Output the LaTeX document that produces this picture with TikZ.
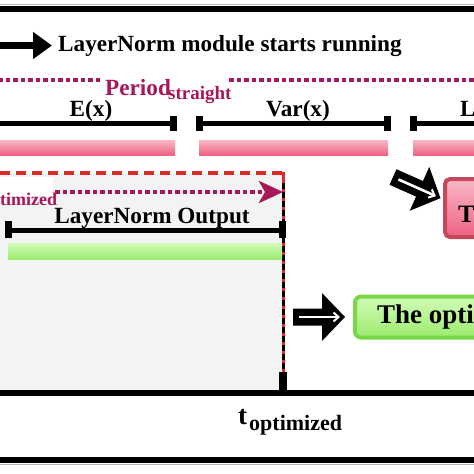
\documentclass[tikz,border=0pt]{standalone}
\usepackage{fontspec}
\setmainfont{Liberation Serif}
\usetikzlibrary{arrows.meta,calc}
\definecolor{mag}{HTML}{A8175A}
\definecolor{redd}{HTML}{E02828}
\definecolor{pinkT}{HTML}{F9B8C6}
\definecolor{pinkB}{HTML}{EE6282}
\definecolor{grnT}{HTML}{D2FBB8}
\definecolor{grnB}{HTML}{9CEB6E}
\definecolor{bgray}{HTML}{F2F3F3}
\definecolor{pboxD}{HTML}{C4475C}
\definecolor{gboxD}{HTML}{78D848}
\begin{document}
\begin{tikzpicture}[x=1pt,y=-1pt,
  txt/.style={font=\fontsize{23.2}{23}\selectfont\bfseries, inner sep=0pt},
  subtxt/.style={font=\fontsize{19}{19}\selectfont\bfseries, inner sep=0pt},
  bigtxt/.style={font=\fontsize{27}{27}\selectfont\bfseries, inner sep=0pt},
  axisline/.style={line width=6pt, black},
  barline/.style={line width=5pt, black},
  tick/.style={line width=7pt, black},
  pinkbar/.style={top color=pinkT, bottom color=pinkB},
  greenbar/.style={top color=grnT, bottom color=grnB},
  magdot/.style={mag, line width=4.5pt, dash pattern=on 4.5pt off 3pt},
  hollowarrow/.pic={
    \fill[black] (0,-8.5) -- (29,-8.5) -- (29,-24) -- (52,0) -- (29,24) -- (29,8.5) -- (0,8.5) -- cycle;
    \draw[white, line width=2.6pt, -{Straight Barb[length=5pt,width=9pt,line width=2pt]}] (6,0) -- (47,0);
  },
  pinkbox/.style={draw=pboxD, line width=4pt, rounded corners=5pt, top color=pinkT, bottom color=pinkB, minimum width=140pt, minimum height=58pt, inner sep=0pt},
  greenbox/.style={draw=gboxD, line width=4pt, rounded corners=6pt, top color=grnT, bottom color=grnB, minimum width=200pt, minimum height=41pt, inner sep=0pt}
]
\useasboundingbox (0,0) rectangle (474,474);
\clip (0,0) rectangle (474,474);
\fill[white] (0,0) rectangle (474,474);
% frame lines
\draw[gray!60, line width=1.5pt] (0,4.5) -- (474,4.5);
\draw[axisline] (0,9) -- (474,9);
\draw[axisline] (0,460) -- (474,460);
\draw[gray!60, line width=1.5pt] (0,464.5) -- (474,464.5);
% legend arrow
\coordinate (la0) at (-2,45.5);
\node[txt, anchor=base west] (legend) at (58,51) {LayerNorm module starts running};
\draw[line width=7pt, -{Triangle[length=19pt,width=26pt]}] (la0) -- ([xshift=-6pt]legend.west |- la0);
% period straight
\node[txt, mag, anchor=base west] (per) at (105,95) {Period};
\node[subtxt, mag, anchor=base west] (perS) at (168,99) {straight};
\draw[magdot] (-2,80) -- (102,80);
\draw[magdot] (229,80) -- (476,80);
% labels
\node[txt, anchor=base] (ex) at (91,116) {E(x)};
\node[txt, anchor=base] (varx) at (298,116) {Var(x)};
\node[txt, anchor=base west] (lx) at (460,116) {L};
% bars
\draw[barline] (-5,123) -- (173,123);
\draw[tick] (173.5,116) -- (173.5,131);
\draw[barline] (199,123) -- (388,123);
\draw[tick] (199.5,116) -- (199.5,131);
\draw[tick] (387.5,116) -- (387.5,131);
\draw[barline] (413,123) -- (480,123);
\draw[tick] (413.5,116) -- (413.5,131);
\fill[pinkbar] (-5,140) rectangle (175,155);
\fill[pinkbar] (199,140) rectangle (388,155);
\fill[pinkbar] (413,140) rectangle (480,155);
% optimized region
\fill[bgray] (0,174) rectangle (283,391);
\fill[white] (0,177) rectangle (53,197);
\draw[redd, line width=3.5pt, dash pattern=on 10pt off 6pt] (0,173) -- (286,173);
\coordinate (p1) at (283,192);
\coordinate (vb) at (283,372);
\draw[redd, line width=3pt] (283,172) -- (vb);
\draw[black, line width=3pt, dash pattern=on 6pt off 3pt] (283,183) -- (vb);
\node[subtxt, mag, anchor=base west, font=\fontsize{18}{18}\selectfont\bfseries] (tim) at (0,205) {timized};
\coordinate (p0) at (55,192);
\draw[magdot, -{Stealth[length=24pt,width=22pt,inset=6pt]}] (p0) -- (p1);
\node[txt, anchor=base] (lno) at (152,223) {LayerNorm Output};
\draw[barline] (6,230) -- (284,230);
\draw[tick] (8.5,221) -- (8.5,238);
\draw[tick] (282,221) -- (282,238);
\fill[greenbar] (8,243) rectangle (282,259);
% bottom axis
\draw[axisline] (0,393) -- (474,393);
\draw[line width=8pt] (vb) -- (283,392);
\node[bigtxt, anchor=base west] (tt) at (238,424) {t};
\node[txt, font=\fontsize{22}{22}\selectfont\bfseries, anchor=base west] (topt) at (249,430) {optimized};
% boxes
\node[pinkbox, anchor=north west] (tbox) at (443,177) {};
\node[bigtxt, font=\fontsize{25}{25}\selectfont\bfseries, anchor=base west] (tboxt) at (458,222) {T};
\node[greenbox, anchor=north west] (gbox) at (353,294.5) {};
\node[bigtxt, anchor=base west] (gboxt) at (377,323) {The opti};
% hollow arrows
\pic[rotate=0] at ([xshift=-60pt]gbox.west) {hollowarrow};
\pic[rotate=-24] at ([xshift=-50pt,yshift=0pt]tbox.north west) {hollowarrow};
\end{tikzpicture}
\end{document}
